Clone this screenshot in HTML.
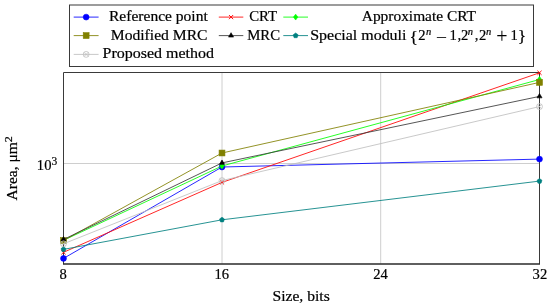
<!DOCTYPE html>
<html><head><meta charset="utf-8">
<style>
html,body{margin:0;padding:0;background:#fff;width:550px;height:306px;overflow:hidden}
svg{display:block}
text{font-family:"Liberation Serif",serif;fill:#000;stroke:#000;stroke-width:0.2px}
</style></head><body>
<svg width="550" height="306" viewBox="0 0 550 306">
<!-- grid -->
<g stroke="#c8c8c8" stroke-width="0.9" fill="none">
<line x1="222" y1="72.3" x2="222" y2="263.7"/>
<line x1="380.7" y1="72.3" x2="380.7" y2="263.7"/>
<line x1="63.5" y1="163.5" x2="539.5" y2="163.5"/>
</g>
<!-- axis box -->
<path d="M63.5,264V72.5H539.5V264" fill="none" stroke="#3a3a3a" stroke-width="1"/>
<line x1="63" y1="264" x2="540" y2="264" stroke="#2a2a2a" stroke-width="1.3"/>
<!-- series -->
<polyline points="63.5,258.4 222.0,167.0 539.5,159.1" fill="none" stroke="#0000ff" stroke-width="0.85" stroke-linejoin="round"/>
<circle cx="63.50" cy="258.40" r="2.94" fill="#0000ff" stroke="#0000ff" stroke-width="0.59"/>
<circle cx="222.00" cy="167.00" r="2.94" fill="#0000ff" stroke="#0000ff" stroke-width="0.59"/>
<circle cx="539.50" cy="159.10" r="2.94" fill="#0000ff" stroke="#0000ff" stroke-width="0.59"/>
<polyline points="63.5,252.3 222.0,182.4 539.5,72.8" fill="none" stroke="#ff0000" stroke-width="0.85" stroke-linejoin="round"/>
<path d="M61.42,250.22L65.58,254.38M61.42,254.38L65.58,250.22" fill="none" stroke="#ff0000" stroke-width="0.95"/>
<path d="M219.92,180.32L224.08,184.48M219.92,184.48L224.08,180.32" fill="none" stroke="#ff0000" stroke-width="0.95"/>
<path d="M537.42,70.72L541.58,74.88M537.42,74.88L541.58,70.72" fill="none" stroke="#ff0000" stroke-width="0.95"/>
<polyline points="63.5,240.3 222.0,166.0 539.5,79.5" fill="none" stroke="#00ff00" stroke-width="0.85" stroke-linejoin="round"/>
<path d="M63.50,237.36L65.70,240.30L63.50,243.24L61.30,240.30Z" fill="#00ff00" stroke="#00ff00" stroke-width="0.59"/>
<path d="M222.00,163.06L224.21,166.00L222.00,168.94L219.79,166.00Z" fill="#00ff00" stroke="#00ff00" stroke-width="0.59"/>
<path d="M539.50,76.56L541.71,79.50L539.50,82.44L537.29,79.50Z" fill="#00ff00" stroke="#00ff00" stroke-width="0.59"/>
<polyline points="63.5,240.5 222.0,153.0 539.5,82.4" fill="none" stroke="#808000" stroke-width="0.85" stroke-linejoin="round"/>
<rect x="60.56" y="237.56" width="5.88" height="5.88" fill="#808000" stroke="#808000" stroke-width="0.59"/>
<rect x="219.06" y="150.06" width="5.88" height="5.88" fill="#808000" stroke="#808000" stroke-width="0.59"/>
<rect x="536.56" y="79.46" width="5.88" height="5.88" fill="#808000" stroke="#808000" stroke-width="0.59"/>
<polyline points="63.5,239.5 222.0,162.9 539.5,96.4" fill="none" stroke="#383838" stroke-width="0.85" stroke-linejoin="round"/>
<polygon points="63.50,236.56 66.05,240.97 60.95,240.97" fill="#000000" stroke="#000000" stroke-width="0.59"/>
<polygon points="222.00,159.96 224.55,164.37 219.45,164.37" fill="#000000" stroke="#000000" stroke-width="0.59"/>
<polygon points="539.50,93.46 542.05,97.87 536.95,97.87" fill="#000000" stroke="#000000" stroke-width="0.59"/>
<polyline points="63.5,249.4 222.0,219.8 539.5,181.1" fill="none" stroke="#008080" stroke-width="0.85" stroke-linejoin="round"/>
<polygon points="63.50,246.81 65.96,248.60 65.02,251.49 61.98,251.49 61.04,248.60" fill="#008080" stroke="#008080" stroke-width="0.59" stroke-linejoin="round"/>
<polygon points="222.00,217.21 224.46,219.00 223.52,221.89 220.48,221.89 219.54,219.00" fill="#008080" stroke="#008080" stroke-width="0.59" stroke-linejoin="round"/>
<polygon points="539.50,178.51 541.96,180.30 541.02,183.19 537.98,183.19 537.04,180.30" fill="#008080" stroke="#008080" stroke-width="0.59" stroke-linejoin="round"/>
<polyline points="63.5,243.8 222.0,180.6 539.5,106.6" fill="none" stroke="#bfbfbf" stroke-width="0.85" stroke-linejoin="round"/>
<g fill="none" stroke="#bfbfbf" stroke-width="0.8"><circle cx="63.50" cy="243.80" r="2.94"/><path d="M61.42,241.72L65.58,245.88M61.42,245.88L65.58,241.72"/></g>
<g fill="none" stroke="#bfbfbf" stroke-width="0.8"><circle cx="222.00" cy="180.60" r="2.94"/><path d="M219.92,178.52L224.08,182.68M219.92,182.68L224.08,178.52"/></g>
<g fill="none" stroke="#bfbfbf" stroke-width="0.8"><circle cx="539.50" cy="106.60" r="2.94"/><path d="M537.42,104.52L541.58,108.68M537.42,108.68L541.58,104.52"/></g>
<!-- tick labels -->
<g font-size="14.6">
<text id="t8" x="59.55" y="279.3">8</text>
<text id="t16" x="214.41" y="279.3">16</text>
<text id="t24" x="373.31" y="279.3">24</text>
<text id="t32" x="532.60" y="279.3">32</text>
<text id="xl" x="272.48" y="301" textLength="57.28" lengthAdjust="spacingAndGlyphs">Size, bits</text>
<text id="y10" x="36.83" y="170">10</text>
<text id="y3" x="51.60" y="164.8" font-size="11.5">3</text>
<text id="yl" transform="translate(17.1,200.5) rotate(-90)" x="0" y="0" textLength="64.4" lengthAdjust="spacingAndGlyphs">Area, μm<tspan font-size="11.3" dy="-5.5">2</tspan></text>
</g>
<!-- legend -->
<rect x="69.5" y="5" width="464" height="61.5" fill="#fff" stroke="#3a3a3a" stroke-width="1"/>
<!-- legend graphics -->
<line x1="73.7" y1="17.1" x2="98.6" y2="17.1" stroke="#0000ff" stroke-width="0.85"/>
<circle cx="86.15" cy="17.10" r="2.94" fill="#0000ff" stroke="#0000ff" stroke-width="0.59"/>
<line x1="218.8" y1="17.1" x2="243.3" y2="17.1" stroke="#ff0000" stroke-width="0.85"/>
<path d="M228.97,15.02L233.13,19.18M228.97,19.18L233.13,15.02" fill="none" stroke="#ff0000" stroke-width="0.95"/>
<line x1="283.3" y1="17.1" x2="308.0" y2="17.1" stroke="#00ff00" stroke-width="0.85"/>
<path d="M295.65,14.16L297.85,17.10L295.65,20.04L293.44,17.10Z" fill="#00ff00" stroke="#00ff00" stroke-width="0.59"/>
<line x1="73.7" y1="35.6" x2="98.6" y2="35.6" stroke="#808000" stroke-width="0.85"/>
<rect x="83.21" y="32.66" width="5.88" height="5.88" fill="#808000" stroke="#808000" stroke-width="0.59"/>
<line x1="218.8" y1="35.6" x2="243.3" y2="35.6" stroke="#383838" stroke-width="0.85"/>
<polygon points="231.05,32.66 233.60,37.07 228.50,37.07" fill="#000000" stroke="#000000" stroke-width="0.59"/>
<line x1="283.3" y1="35.6" x2="308.0" y2="35.6" stroke="#008080" stroke-width="0.85"/>
<polygon points="295.65,33.01 298.11,34.80 297.17,37.69 294.13,37.69 293.19,34.80" fill="#008080" stroke="#008080" stroke-width="0.59" stroke-linejoin="round"/>
<line x1="73.7" y1="54.4" x2="98.6" y2="54.4" stroke="#bfbfbf" stroke-width="0.85"/>
<g fill="none" stroke="#bfbfbf" stroke-width="0.8"><circle cx="86.15" cy="54.40" r="2.94"/><path d="M84.07,52.32L88.23,56.48M84.07,56.48L88.23,52.32"/></g>
<g font-size="14.6">
<text id="l1" x="109.00" y="21.40" textLength="98.75" lengthAdjust="spacingAndGlyphs">Reference point</text>
<text id="l2" x="110.75" y="39.90" textLength="96.77" lengthAdjust="spacingAndGlyphs">Modified MRC</text>
<text id="l3" x="102.50" y="58.40" textLength="111.50" lengthAdjust="spacingAndGlyphs">Proposed method</text>
<text id="l4" x="249.23" y="21.40" textLength="27.94" lengthAdjust="spacingAndGlyphs">CRT</text>
<text id="l5" x="247.23" y="39.90" textLength="32.80" lengthAdjust="spacingAndGlyphs">MRC</text>
<text id="l6" x="361.75" y="21.40" textLength="114.25" lengthAdjust="spacingAndGlyphs">Approximate CRT</text>
<text id="l7" x="310.23" y="39.90" textLength="96.27" lengthAdjust="spacingAndGlyphs">Special moduli</text>
<text id="m1" x="409.50" y="42.90" font-size="17.6">{</text>
<text id="m2" x="418.23" y="39.90">2</text>
<text id="m3" x="425.90" y="35.10" font-size="10.5" font-style="italic">n</text>
<text id="m4" x="435.85" y="42.60" font-size="17" style="stroke-width:0" textLength="11.29" lengthAdjust="spacingAndGlyphs">−</text>
<text id="m5" x="449.38" y="39.90">1</text>
<text id="m6" x="457.59" y="39.90">,</text>
<text id="m7" x="461.00" y="39.90">2</text>
<text id="m8" x="467.85" y="35.10" font-size="10.5" font-style="italic">n</text>
<text id="m9" x="474.83" y="39.90">,</text>
<text id="m10" x="478.88" y="39.90">2</text>
<text id="m11" x="486.05" y="35.10" font-size="10.5" font-style="italic">n</text>
<text id="m12" x="496.31" y="42.90" font-size="20" style="stroke-width:0">+</text>
<text id="m13" x="510.40" y="39.90">1</text>
<text id="m14" x="517.78" y="41.60" font-size="17.6">}</text>
</g>
</svg>
</body></html>
